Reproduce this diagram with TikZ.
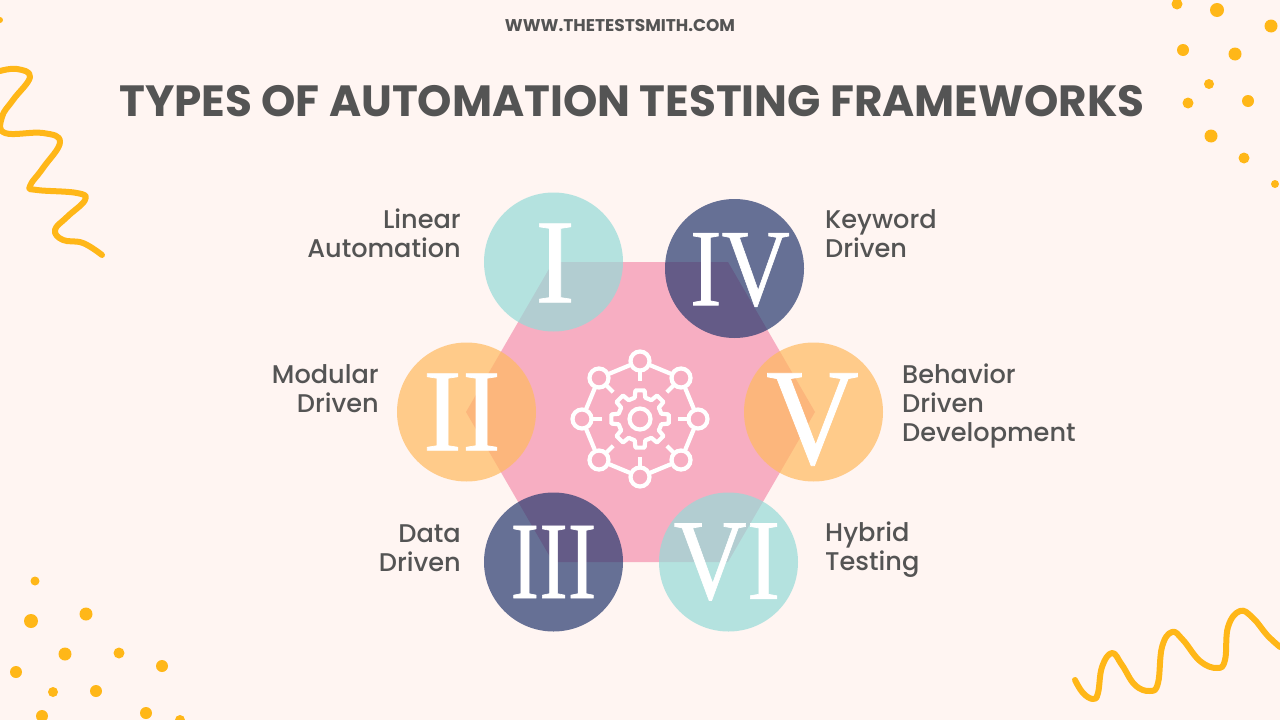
\documentclass[tikz,border=0pt]{standalone}
\usepackage{fontspec}
\usepackage{graphicx}
\usetikzlibrary{calc}
\setmainfont{Poppins}
\newfontfamily\labfont{Poppins Medium}
\newfontfamily\romanfont[FakeBold=0.6]{Liberation Serif}
\newcommand{\rnum}[3]{{\fontsize{#1}{#1}\selectfont\scalebox{#2}[1]{#3}}}
\definecolor{bgc}{HTML}{FFF5F2}
\definecolor{pinkc}{HTML}{F7AEC2}
\definecolor{tealc}{RGB}{149,219,216}
\definecolor{navyc}{RGB}{38,56,110}
\definecolor{orangec}{RGB}{255,186,95}
\definecolor{inkc}{HTML}{545454}
\definecolor{goldc}{HTML}{FFB718}
\tikzset{
 x=1pt,y=-1pt,
 circ/.style={fill opacity=.7},
 numeral/.style={text=white,font=\romanfont,inner sep=0pt},
 lab/.style={text=inkc,font=\labfont\fontsize{25.6}{29}\selectfont,inner sep=0pt},
 dot/.style={fill=goldc,draw=none},
 squig/.style={draw=goldc,line width=6pt,line cap=round,line join=round},
 ic/.style={draw=white,line width=4.2pt,fill=none},
}
\begin{document}
\begin{tikzpicture}
\useasboundingbox (0,0) rectangle (1280,720);
\fill[bgc] (0,0) rectangle (1280,720);
\node[text=inkc,font=\fontsize{17}{20}\selectfont\bfseries,inner sep=0pt] (site) at (620,25.8) {WWW.THETESTSMITH.COM};
\node[text=inkc,font=\fontsize{43.7}{50}\selectfont\bfseries,inner sep=0pt] (title) at (632,101.5) {TYPES OF AUTOMATION TESTING FRAMEWORKS};
\fill[pinkc] (553,262) -- (728,262) -- (815,412) -- (728,562) -- (553,562) -- (466,412) -- cycle;
\fill[tealc,circ] (553.5,262) circle (69.5);
\fill[navyc,circ] (734.5,268.5) circle (69.5);
\fill[orangec,circ] (466.5,412) circle (69.5);
\fill[orangec,circ] (813.5,412) circle (69.5);
\fill[navyc,circ] (553.5,562) circle (69.5);
\fill[tealc,circ] (728.5,562) circle (69.5);
\node[numeral] (c1) at (555,263) {\rnum{120}{1}{I}};
\node[numeral] (c4) at (740,270) {\rnum{110}{.86}{IV}};
\node[numeral] (c2) at (462,412) {\rnum{117}{1}{II}};
\node[numeral] (c5) at (812.5,419.5) {\rnum{138}{.93}{V}};
\node[numeral] (c3) at (553.5,562) {\rnum{110}{.78}{III}};
\node[numeral] (c6) at (727,562) {\rnum{115}{.88}{VI}};
\node[lab,align=right,anchor=east] (l1) at (461,233) {Linear\\Automation};
\node[lab,align=right,anchor=east] (l2) at (379,389) {Modular\\Driven};
\node[lab,align=right,anchor=east] (l3) at (461,548) {Data\\Driven};
\node[lab,align=left,anchor=west] (l4) at (825,234) {Keyword\\Driven};
\node[lab,align=left,anchor=west] (l5) at (902,406) {Behavior\\Driven\\Development};
\node[lab,align=left,anchor=west] (l6) at (825,550) {Hybrid\\Testing};
% central icon
\begin{scope}[shift={(640,419)}]
 \foreach \a in {0,45,...,315}{
  \draw[ic] (\a:58) circle (9.5);
  \draw[ic] (\a:48) -- (\a:38);
  \draw[ic] ($(\a:58)!9.5pt!(\a+45:58)$) -- ($(\a+45:58)!9.5pt!(\a:58)$);
 }
 \draw[ic] (0,0) circle (10.5);
 \draw[ic,line join=round] (-14:22) \foreach \a in {0,45,...,315}{ -- (\a-14:22) -- (\a-9:29) -- (\a+9:29) -- (\a+14:22)} -- cycle;
\end{scope}
% squiggles
\draw[squig] plot[smooth,tension=.7] coordinates {(0,71) (17,69) (30,77) (13,100) (2,117) (5,133) (43,133) (60,142) (43,168) (30,186) (37,190) (77,193) (85,200) (67,217) (55,230) (63,240) (83,243) (102,255)};
\draw[squig] plot[smooth,tension=.7] coordinates {(1075,680) (1083,693) (1093,699) (1098,693) (1102,667) (1112,653) (1122,665) (1135,685) (1150,691) (1158,683) (1162,647) (1172,632) (1183,640) (1200,661) (1217,668) (1225,660) (1228,627) (1240,611) (1253,618) (1267,635) (1280,647)};
% dots
\foreach \x/\y/\r in {1177/4/5.5,1217/10/7,1271/26/6.5,1183/50/6,1235/54/6.5,1209/84/5,1188/103/5.5,1248/101/6,1211/136/6.5,1244/158/5.5,1275/184/4,
 35/581/4.5,31/621/7,86/614/6.5,65/654/6.5,119/653/5.5,16/672/6,53/692/5,96/691/6,162/666/6,42/716/6,146/713/6,180/720/5,0/20/3}
 \fill[dot] (\x,\y) circle (\r);
\end{tikzpicture}
\end{document}
